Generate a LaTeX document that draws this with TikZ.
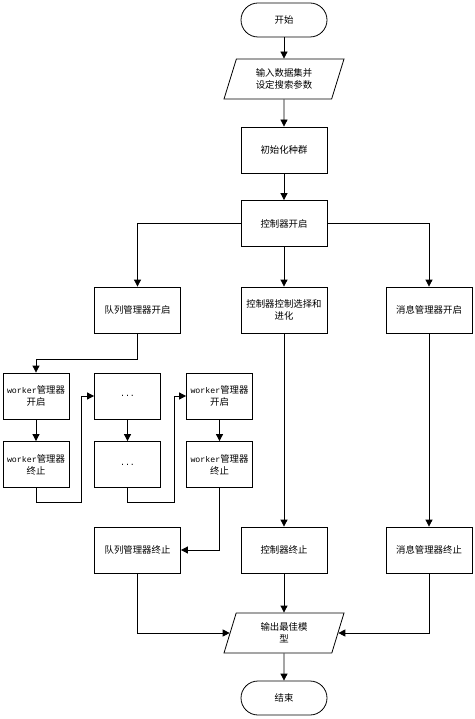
\documentclass[tikz,border=0pt]{standalone}
\usepackage{fontspec}
\setmainfont{Noto Sans CJK SC}
\newfontfamily\monof[Scale=0.88]{Liberation Mono}
\usetikzlibrary{shapes.geometric,arrows.meta}
\begin{document}
\begin{tikzpicture}[x=1pt,y=-1pt,
  box/.style={draw, line width=0.8pt, fill=white, minimum width=86pt, minimum height=46pt,
    inner sep=2pt, align=center, font=\fontsize{9.4}{12}\selectfont},
  wbox/.style={box, minimum width=66pt},
  term/.style={box, rounded corners=17pt, minimum height=34pt},
  io/.style={box, trapezium, trapezium left angle=63.4, trapezium right angle=116.6,
    trapezium stretches body, minimum width=120pt, minimum height=40pt},
  arr/.style={-{Triangle[length=7pt,width=7pt]}, line width=0.8pt}]
\useasboundingbox (0,0) rectangle (474,719);

\node[term] (start) at (284,20) {开始};
\node[io] (in) at (284,79) {输入数据集并\\设定搜索参数};
\node[box] (init) at (284,150) {初始化种群};
\node[box] (ctrl) at (284,223.5) {控制器开启};
\node[box] (qs) at (137.5,310) {队列管理器开启};
\node[box] (cs) at (284,310) {控制器控制选择和\\进化};
\node[box] (ms) at (429,310) {消息管理器开启};
\node[wbox] (w1a) at (36,396) {{\monof worker}管理器\\开启};
\node[wbox] (w1b) at (36,464.5) {{\monof worker}管理器\\终止};
\node[wbox] (w2a) at (127.5,396) {{\monof ...}};
\node[wbox] (w2b) at (127.5,464.5) {{\monof ...}};
\node[wbox] (w3a) at (219.5,396) {{\monof worker}管理器\\开启};
\node[wbox] (w3b) at (219.5,464.5) {{\monof worker}管理器\\终止};
\node[box] (qe) at (137.5,550) {队列管理器终止};
\node[box] (ce) at (284,550) {控制器终止};
\node[box] (me) at (429,550) {消息管理器终止};
\node[io] (out) at (284,633) {输出最佳模\\型};
\node[term] (end) at (284,698) {结束};

\coordinate (j1) at (81,396);
\coordinate (j2) at (174,396);

\draw[arr] (start) -- (in);
\draw[arr] (in) -- (init);
\draw[arr] (init) -- (ctrl);
\draw[arr] (ctrl) -- (cs);
\draw[arr] (ctrl.west) -| (qs.north);
\draw[arr] (ctrl.east) -| (ms.north);
\draw[arr] (qs.south) -- ++(0,26) -| (w1a.north);
\draw[arr] (w1a) -- (w1b);
\draw[arr] (w2a) -- (w2b);
\draw[arr] (w3a) -- (w3b);
\draw[arr] (w1b.south) -- ++(0,14) -| (j1) -- (w2a.west);
\draw[arr] (w2b.south) -- ++(0,14) -| (j2) -- (w3a.west);
\draw[arr] (w3b.south) |- (qe.east);
\draw[arr] (cs) -- (ce);
\draw[arr] (ms) -- (me);
\draw[arr] (qe.south) |- (out);
\draw[arr] (ce) -- (out);
\draw[arr] (me.south) |- (out);
\draw[arr] (out) -- (end);
\end{tikzpicture}
\end{document}
